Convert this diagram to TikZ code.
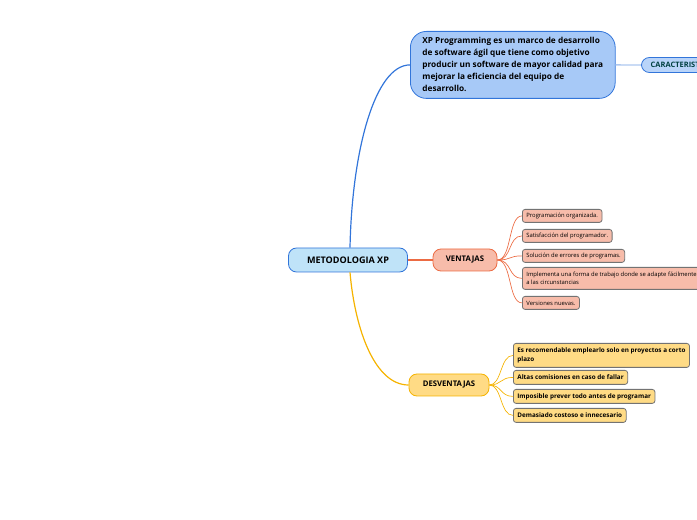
\documentclass[tikz,border=0pt]{standalone}
\usepackage{fontspec}
\setmainfont{Open Sans}
\begin{document}
\begin{tikzpicture}[x=0.75pt,y=-0.75pt,
  box/.style={draw,rounded corners=#1,line width=0.6pt,inner xsep=3pt,inner ysep=1.5pt,align=left},
  vch/.style={box=2pt,draw=black!55,fill=ventf,anchor=north west,font=\fontsize{4.4}{6}\selectfont,minimum height=13*0.75pt},
  dch/.style={box=2pt,draw=black!55,fill=desf,anchor=north west,font=\bfseries\fontsize{4.75}{6.5}\selectfont,minimum height=14*0.75pt},
  vln/.style={draw=ventl,line width=0.5pt},
  dln/.style={draw=desl,line width=0.5pt}]
\definecolor{rootf}{HTML}{BFE3F8}
\definecolor{bluef}{HTML}{A7C9F7}
\definecolor{bluel}{HTML}{3275DA}
\definecolor{ventf}{HTML}{F7BCAA}
\definecolor{ventl}{HTML}{EC6B43}
\definecolor{desf}{HTML}{FFDB85}
\definecolor{desl}{HTML}{F5B300}
\useasboundingbox (0,0) rectangle (697,520);
\clip (0,0) rectangle (697,520);
% nodes
\node[box=6pt,draw=bluel,fill=rootf,minimum width=119*0.75pt,minimum height=24*0.75pt,font=\bfseries\fontsize{6.8}{8}\selectfont] (root) at (348,260) {METODOLOGIA XP};
\node[box=12pt,draw=bluel,fill=bluef,anchor=north west,minimum width=204*0.75pt,minimum height=67*0.75pt,inner xsep=9pt,font=\bfseries\fontsize{6.2}{9}\selectfont] (xp) at (410,31) {XP Programming es un marco de desarrollo\\de software ágil que tiene como objetivo\\producir un software de mayor calidad para\\mejorar la eficiencia del equipo de\\desarrollo.};
\node[box=6pt,draw=bluel,fill=bluef!80,anchor=west,minimum height=15*0.75pt,inner xsep=7pt,text=teal!50!black,font=\bfseries\fontsize{5.6}{7}\selectfont] (car) at (641,65) {CARACTERISTICAS};
\node[box=6pt,draw=ventl,fill=ventf,minimum width=64*0.75pt,minimum height=22*0.75pt,font=\bfseries\fontsize{5.8}{7}\selectfont] (ven) at (465,260) {VENTAJAS};
\node[box=6pt,draw=desl,fill=desf,minimum width=80*0.75pt,minimum height=22*0.75pt,font=\bfseries\fontsize{5.8}{7}\selectfont] (des) at (449,385) {DESVENTAJAS};
\node[vch] (v1) at (522,209) {Programación organizada.};
\node[vch] (v2) at (522,229) {Satisfacción del programador.};
\node[vch] (v3) at (522,249) {Solución de errores de programas.};
\node[vch,minimum height=22*0.75pt] (v4) at (522,267) {Implementa una forma de trabajo donde se adapte fácilmente\\a las circunstancias};
\node[vch] (v5) at (522,296) {Versiones nuevas.};
\node[dch,minimum height=24*0.75pt] (d1) at (513,343) {Es recomendable emplearlo solo en proyectos a corto\\plazo};
\node[dch] (d2) at (513,370) {Altas comisiones en caso de fallar};
\node[dch] (d3) at (513,389) {Imposible prever todo antes de programar};
\node[dch] (d4) at (513,408) {Demasiado costoso e innecesario};
% connectors
\draw[draw=bluel,line width=0.9pt] (root.north) ++(2,0) coordinate (r1) .. controls (352,150) and (375,65) .. (xp.west);
\draw[draw=bluel!40,line width=1pt] (xp.east) -- (car.west);
\draw[draw=ventl,line width=1pt] (root.east) -- (ven.west);
\draw[draw=desl,line width=0.9pt] (root.south) ++(2,0) coordinate (r2) .. controls (355,330) and (375,385) .. (des.west);
\foreach \c in {v1,v2,v3,v4,v5}{\draw[vln] (ven.east) .. controls (512,260) and (508,0|-\c.west) .. (\c.west);}
\foreach \c in {d1,d2,d3,d4}{\draw[dln] (des.east) .. controls (502,385) and (500,0|-\c.west) .. (\c.west);}
\end{tikzpicture}
\end{document}
